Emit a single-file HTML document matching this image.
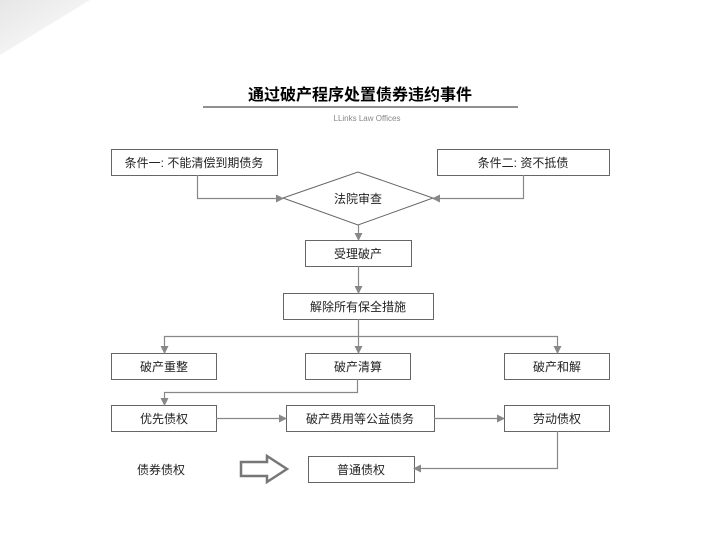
<!DOCTYPE html>
<html><head><meta charset="utf-8"><style>
body{margin:0;background:#fff}
svg text{font-family:"Liberation Sans","Noto Sans CJK SC",sans-serif}
</style></head><body>
<svg width="720" height="540" viewBox="0 0 720 540" xmlns="http://www.w3.org/2000/svg">
<defs>
<marker id="a" markerWidth="8" markerHeight="8" refX="7" refY="4" orient="auto" markerUnits="userSpaceOnUse"><path d="M0,0 L8,4 L0,8 Z" fill="#888"/></marker>
<linearGradient id="g" x1="0" y1="0" x2="1" y2="1"><stop offset="0" stop-color="#e6e6e6"/><stop offset="1" stop-color="#fff"/></linearGradient>
</defs>
<path d="M0,0 L90,0 L0,55 Z" fill="url(#g)"/>
<text x="360" y="100" font-size="16" font-weight="bold" text-anchor="middle" font-family="'Noto Serif CJK SC',serif">通过破产程序处置债券违约事件</text>
<line x1="203" y1="107" x2="518" y2="107" stroke="#222" stroke-width="1"/>
<text x="367" y="121" font-size="8" fill="#888" text-anchor="middle" font-family="'Liberation Serif',serif">LLinks Law Offices</text>
<g fill="#fff" stroke="#666" stroke-width="1">
<rect x="111.5" y="149.5" width="166" height="26"/>
<rect x="437.5" y="149.5" width="172" height="26"/>
<path d="M283,198 L358,172 L433,198 L358,225 Z"/>
<rect x="305.5" y="240.5" width="106" height="26"/>
<rect x="283.5" y="293.5" width="150" height="26"/>
<rect x="111.5" y="353.5" width="105" height="26"/>
<rect x="305.5" y="353.5" width="105" height="26"/>
<rect x="504.5" y="353.5" width="105" height="26"/>
<rect x="111.5" y="405.5" width="105" height="26"/>
<rect x="286.5" y="405.5" width="148" height="26"/>
<rect x="504.5" y="405.5" width="105" height="26"/>
<rect x="308.5" y="456.5" width="106" height="26"/>
</g>
<g fill="none" stroke="#888" stroke-width="1.2" marker-end="url(#a)">
<path d="M197.5,175 V198.5 H283"/>
<path d="M523.5,175 V198.5 H433"/>
<path d="M358.5,225 V240"/>
<path d="M358.5,266 V293"/>
<path d="M358.5,319 V353"/>
<path d="M358,336.5 H164.5 V353"/>
<path d="M358,336.5 H557.5 V353"/>
<path d="M357.5,379 V392.5 H164.5 V405"/>
<path d="M216,418.5 H286"/>
<path d="M434,418.5 H504"/>
<path d="M557.5,431 V468.5 H414"/>
</g>
<path d="M241,462 H267 V456 L287,469 L267,482 V476 H241 Z" fill="#fff" stroke="#777" stroke-width="2.5"/>
<g font-size="12" fill="#222" text-anchor="middle">
<text x="194" y="167">条件一: 不能清偿到期债务</text>
<text x="523" y="167">条件二:  资不抵债</text>
<text x="358" y="203">法院审查</text>
<text x="358" y="258">受理破产</text>
<text x="358" y="311">解除所有保全措施</text>
<text x="164" y="371">破产重整</text>
<text x="358" y="371">破产清算</text>
<text x="557" y="371">破产和解</text>
<text x="164" y="423">优先债权</text>
<text x="360" y="423">破产费用等公益债务</text>
<text x="557" y="423">劳动债权</text>
<text x="361" y="474">普通债权</text>
<text x="161" y="474">债券债权</text>
</g>
</svg>
</body></html>
